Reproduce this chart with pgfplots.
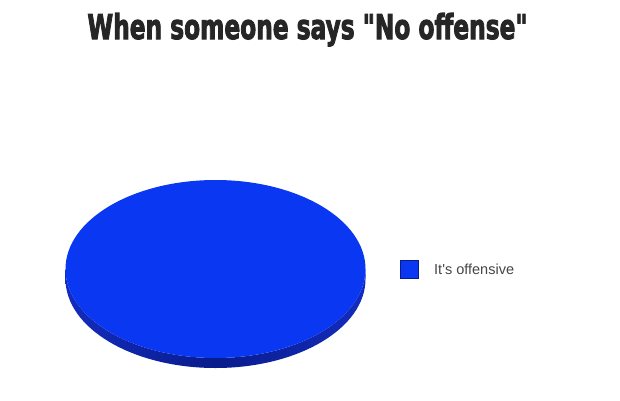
\documentclass[border=0pt]{standalone}
\usepackage{pgfplots}
\usepackage{pgfplotstable}
\pgfplotsset{compat=1.18}
\usepackage{fontspec}
\setmainfont{Liberation Sans}
\newfontfamily\titlefont[FakeBold=3]{DejaVu Sans Condensed Bold}
\definecolor{pietop}{RGB}{10,56,242}
\definecolor{sideA}{RGB}{20,44,190}
\definecolor{sideB}{RGB}{8,28,140}
\definecolor{titlegray}{RGB}{38,38,38}
\definecolor{legtext}{RGB}{70,70,70}
\pgfplotstableread[col sep=comma]{
label,value
It's offensive,100
}\piedata
\begin{document}
\begin{tikzpicture}
\pgfplotstablegetelem{0}{value}\of\piedata
\let\sliceval\pgfplotsretval
\pgfmathsetmacro\sliceend{3.6*\sliceval}
\begin{axis}[
  width=620pt, height=400pt, scale only axis,
  xmin=0, xmax=620, ymin=0, ymax=400,
  hide axis, clip=false,
]
\fill[white] (axis cs:0,0) rectangle (axis cs:620,400);
% pie side (depth)
\shade[left color=sideA, right color=sideA, middle color=sideB]
  (axis cs:65.5,131) -- (axis cs:65.5,121)
  arc[start angle=180, end angle=360, x radius=150pt, y radius=89pt]
  -- (axis cs:365.5,131)
  arc[start angle=0, end angle=-180, x radius=150pt, y radius=89pt] -- cycle;
% pie top (slice from data)
\fill[pietop] (axis cs:215.5,131) -- ++(0:150pt and 89pt)
  arc[start angle=0, end angle=\sliceend, x radius=150pt, y radius=89pt] -- cycle;
% legend
\fill[pietop, draw=sideB, line width=0.8pt] (axis cs:400.5,122) rectangle (axis cs:418.5,140);
\node[anchor=west, text=legtext, font=\fontsize{14.5}{16}\selectfont, inner sep=0pt]
  at (axis cs:434,131) {It\textquotesingle s offensive};
% title
\node[text=titlegray, inner sep=0pt, anchor=base] at (axis cs:307.5,361)
  {\resizebox{440pt}{26pt}{\titlefont When someone says "No offense"}};
\end{axis}
\end{tikzpicture}
\end{document}
